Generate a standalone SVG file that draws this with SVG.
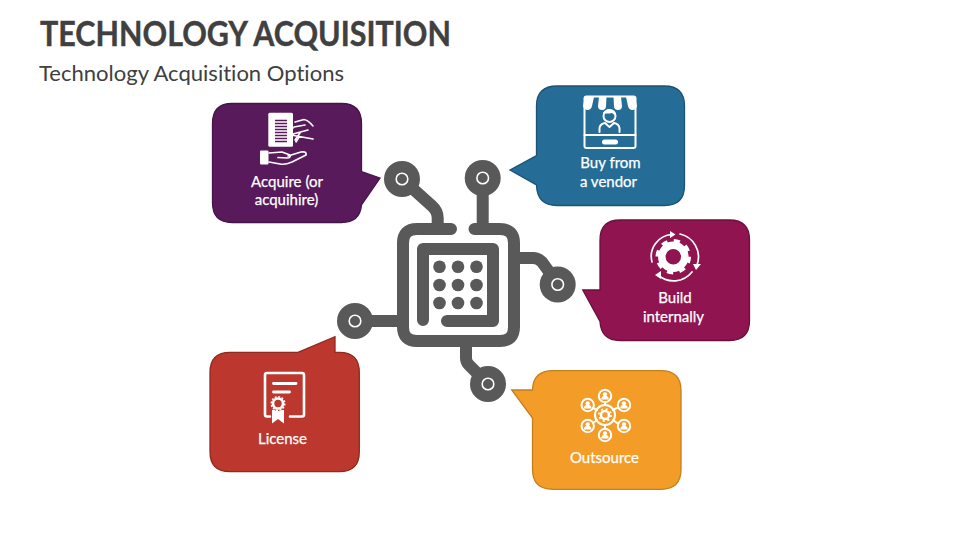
<svg xmlns="http://www.w3.org/2000/svg" width="960" height="540" viewBox="0 0 960 540">
<style>
text{font-variant-ligatures:none}
.t{font-family:"Lato","Open Sans","Liberation Sans",sans-serif;fill:#404040}
.l{font-family:"Lato","Open Sans","Liberation Sans",sans-serif;font-size:15px;fill:#fff;stroke:#fff;stroke-width:.25;text-anchor:middle}
.w{fill:none;stroke:#fff;stroke-width:2;stroke-linecap:round;stroke-linejoin:round}
.f{fill:#fff}
.g{fill:none;stroke:#595959;stroke-width:12;stroke-linecap:round;stroke-linejoin:round}
.p{fill:#595959}
.r{fill:#595959;stroke:#fff;stroke-width:1.6}
.c{stroke-width:1.3}
</style>
<defs>
<g id="person"><circle cx="0" cy="-1.700" r="2.100" fill="#fff"/><path d="M-3.800,3.600 a3.800,3.800 0 0 1 7.600,0 z" fill="#fff"/></g>
</defs>
<rect width="960" height="540" fill="#fff"/>
<text class="t" x="40" y="46" font-size="34" font-weight="700" stroke="#404040" stroke-width=".4" textLength="411" lengthAdjust="spacingAndGlyphs">TECHNOLOGY ACQUISITION</text>
<text class="t" x="39" y="81" font-size="21" textLength="305" lengthAdjust="spacingAndGlyphs">Technology Acquisition Options</text>

<g id="connectors">
<path class="g" d="M402,179 L432,206 Q437.700,211 437.700,218 V229"/>
<path class="g" d="M482.700,178 V229"/>
<path class="g" d="M514,258 H533 Q538,258 542,262 L558,284"/>
<path class="g" d="M355,321 H403"/>
<path class="g" d="M466,341 V358 Q466,362 469,365 L488,384"/>
</g>

<g id="chip">
<path class="g" d="M451,229 H417 Q403,229 403,243 V327 Q403,341 417,341 H500 Q514,341 514,327 V243 Q514,229 500,229 H474.500"/>
<path class="g" d="M423,320 V249 H493 V321 H447"/>
<g class="p">
<circle cx="439.500" cy="266.700" r="6.300"/><circle cx="458" cy="266.700" r="6.300"/><circle cx="476.500" cy="266.700" r="6.300"/>
<circle cx="439.500" cy="285" r="6.300"/><circle cx="458" cy="285" r="6.300"/><circle cx="476.500" cy="285" r="6.300"/>
<circle cx="439.500" cy="303" r="6.300"/><circle cx="458" cy="303" r="6.300"/><circle cx="476.500" cy="303" r="6.300"/>
</g>
</g>
<g id="pin-acquire"><circle class="p" cx="402" cy="179" r="18"/><circle class="r" cx="402" cy="179" r="5.800"/></g>
<g id="pin-buy"><circle class="p" cx="482.700" cy="178" r="18"/><circle class="r" cx="482.700" cy="178" r="5.800"/></g>
<g id="pin-build"><circle class="p" cx="557.700" cy="284.500" r="18"/><circle class="r" cx="557.700" cy="284.500" r="5.800"/></g>
<g id="pin-license"><circle class="p" cx="355" cy="321" r="18"/><circle class="r" cx="355" cy="321" r="5.800"/></g>
<g id="pin-outsource"><circle class="p" cx="488" cy="384" r="18"/><circle class="r" cx="488" cy="384" r="5.800"/></g>

<g id="acquire">
<path class="c" fill="#581A5A" stroke="#45144a" d="M232,103.500 H341.500 Q361.500,103.500 361.500,123.500 V171.500 L380,178 L361.500,205 Q360,222.500 341.500,222.500 H232 Q212.500,222.500 212.500,202.500 V123.500 Q212.500,103.500 232,103.500 Z"/>
<rect class="f" x="268.300" y="112.700" width="24.700" height="34" rx="1.500"/>
<path d="M275,120.500 H287 M275,123.500 H287 M275,126.500 H287 M275,129.500 H287 M275,132.500 H287 M275,135.500 H287 M275,138.500 H287 M275,141.500 H287" stroke="#581A5A" stroke-width="1.500" fill="none"/>
<path class="w" d="M295,122 L304,119.500 Q308,120 313,126 M294,127 L305,125 M293,128 Q287,131 291,135 L313,139 M295,140 L300,133 M293,134 L308,130" style="stroke-width:1.600"/>
<path class="w" style="stroke-width:1.600" d="M296,139 V142 L299,137"/>
<rect class="f" x="260" y="150.500" width="8.500" height="14" rx="1"/>
<path class="w" d="M269,153 L282,152 L290,155 Q291,158 287,158 L278,157.500 M288,156 L301,152 Q307,151 306,155 L292,162 Q285,165 280,164 L269,162" style="stroke-width:1.700"/>
<text class="l" x="287" y="186.500">Acquire (or</text>
<text class="l" x="286.500" y="205">acquihire)</text>
</g>

<g id="buy">
<path class="c" fill="#256D96" stroke="#1c5372" d="M557,86 H664.500 Q684.500,86 684.500,106 V185.500 Q684.500,205.500 664.500,205.500 H557 Q537,205.500 536.500,185 L510,170 L536.500,155.500 V106 Q536.500,86 557,86 Z"/>
<rect class="w" x="584.500" y="96.500" width="51" height="51.500" rx="2"/>
<path class="w" d="M584.500,135 H635.500"/>
<path class="f" d="M585,97 H635 L637,106 Q636,110 632.500,110 Q629,110 628,106 L626,97 H621 L622,106 Q622,110 618,110 Q614,110 614,106 L613.500,97 H606.500 L606,106 Q606,110 602,110 Q598,110 598,106 L599,97 H594 L592,106 Q591,110 587.500,110 Q584,110 583,106 Z"/>
<rect class="f" x="602" y="139.500" width="16" height="5" rx="2.500"/>
<circle class="w" cx="609.500" cy="116" r="6"/>
<path class="f" d="M603,113 Q606,108 611,110 Q616,110 616,116 L612,113 Q607,114 603,113 Z"/>
<path class="w" d="M599.500,132 V128 Q600,124 605,123 L609.500,127 L614,123 Q619,124 619.500,128 V132"/>
<text class="l" x="610.500" y="168">Buy from</text>
<text class="l" x="608.500" y="187">a vendor</text>
</g>

<g id="build">
<path class="c" fill="#8F1450" stroke="#6d0f3d" d="M620,220 H729.500 Q749.500,220 749.500,240 V320.500 Q749.500,340.500 729.500,340.500 H620 Q601,340.500 600,321.500 L582.700,290 H600 V240 Q600,220 620,220 Z"/>
<circle cx="673.300" cy="256.700" r="11.500" fill="none" stroke="#fff" stroke-width="7.500"/>
<circle cx="673.300" cy="256.700" r="15.500" fill="none" stroke="#fff" stroke-width="4.500" stroke-dasharray="6 6.170"/>
<path class="w" style="stroke-width:1.700" d="M652,262 A22,22 0 0 1 672,234.500 M680,234 A23.500,23.500 0 0 1 697,265 M692,272 A23.500,23.500 0 0 1 658,275"/>
<path class="f" d="M670,231 L675.500,234.500 L670,238 Z M693,264 L701,264 L696,270 Z M661,271 L655,275 L661,279 Z"/>
<text class="l" x="675" y="303">Build</text>
<text class="l" x="673.500" y="322">internally</text>
</g>

<g id="license">
<path class="c" fill="#BC372D" stroke="#8f2a22" d="M230,352.300 H298 L335,336.700 V352.300 H339.300 Q359.300,352.300 359.300,372.300 V451.700 Q359.300,471.700 339.300,471.700 H230 Q210,471.700 210,451.700 V372.300 Q210,352.300 230,352.300 Z"/>
<path class="w" style="stroke-width:2.600" d="M270,416.500 H267 Q265,416.500 265,414.500 V375 Q265,373 267,373 H302 Q304,373 304,375 V414.500 Q304,416.500 302,416.500 H290"/>
<path class="w" style="stroke-width:2.900" d="M273.500,383.500 H296 M273.500,392 H289.500"/>
<path class="f" d="M272,410 H284 V423.500 L278,419 L272,423.500 Z"/>
<circle cx="278" cy="403.500" r="7.400" fill="#BC372D"/>
<circle cx="278" cy="403.500" r="5" fill="none" stroke="#fff" stroke-width="2.600"/>
<circle cx="278" cy="403.500" r="6.800" fill="none" stroke="#fff" stroke-width="1.400" stroke-dasharray="2 1.560"/>
<text class="l" x="282.500" y="444">License</text>
</g>

<g id="outsource">
<path class="c" fill="#F39C27" stroke="#c47f1e" d="M553,370.700 H661 Q681,370.700 681,390.700 V469.300 Q681,489.300 661,489.300 H553 Q532.500,489.300 532.500,469.300 V418 L511.700,390 H532.500 Q533,370.700 553,370.700 Z"/>
<path class="w" d="M605,402 V405 M605,425 V429 M593,408 L597,410 M617,408 L613,410 M593,423 L597,420 M617,423 L613,420"/>
<circle class="w" cx="605" cy="415" r="10"/>
<circle cx="605" cy="415" r="4" fill="none" stroke="#fff" stroke-width="2.600"/>
<circle cx="605" cy="415" r="6" fill="none" stroke="#fff" stroke-width="1.800" stroke-dasharray="2 2.710"/>
<g class="w"><circle cx="605" cy="396" r="6.200"/><circle cx="605" cy="435" r="6.200"/><circle cx="587.700" cy="405" r="6.200"/><circle cx="624" cy="405" r="6.200"/><circle cx="587.700" cy="426" r="6.200"/><circle cx="624" cy="426" r="6.200"/></g>
<use href="#person" x="605" y="396"/><use href="#person" x="605" y="435"/><use href="#person" x="587.700" y="405"/><use href="#person" x="624" y="405"/><use href="#person" x="587.700" y="426"/><use href="#person" x="624" y="426"/>
<text class="l" x="604.500" y="463">Outsource</text>
</g>
</svg>
